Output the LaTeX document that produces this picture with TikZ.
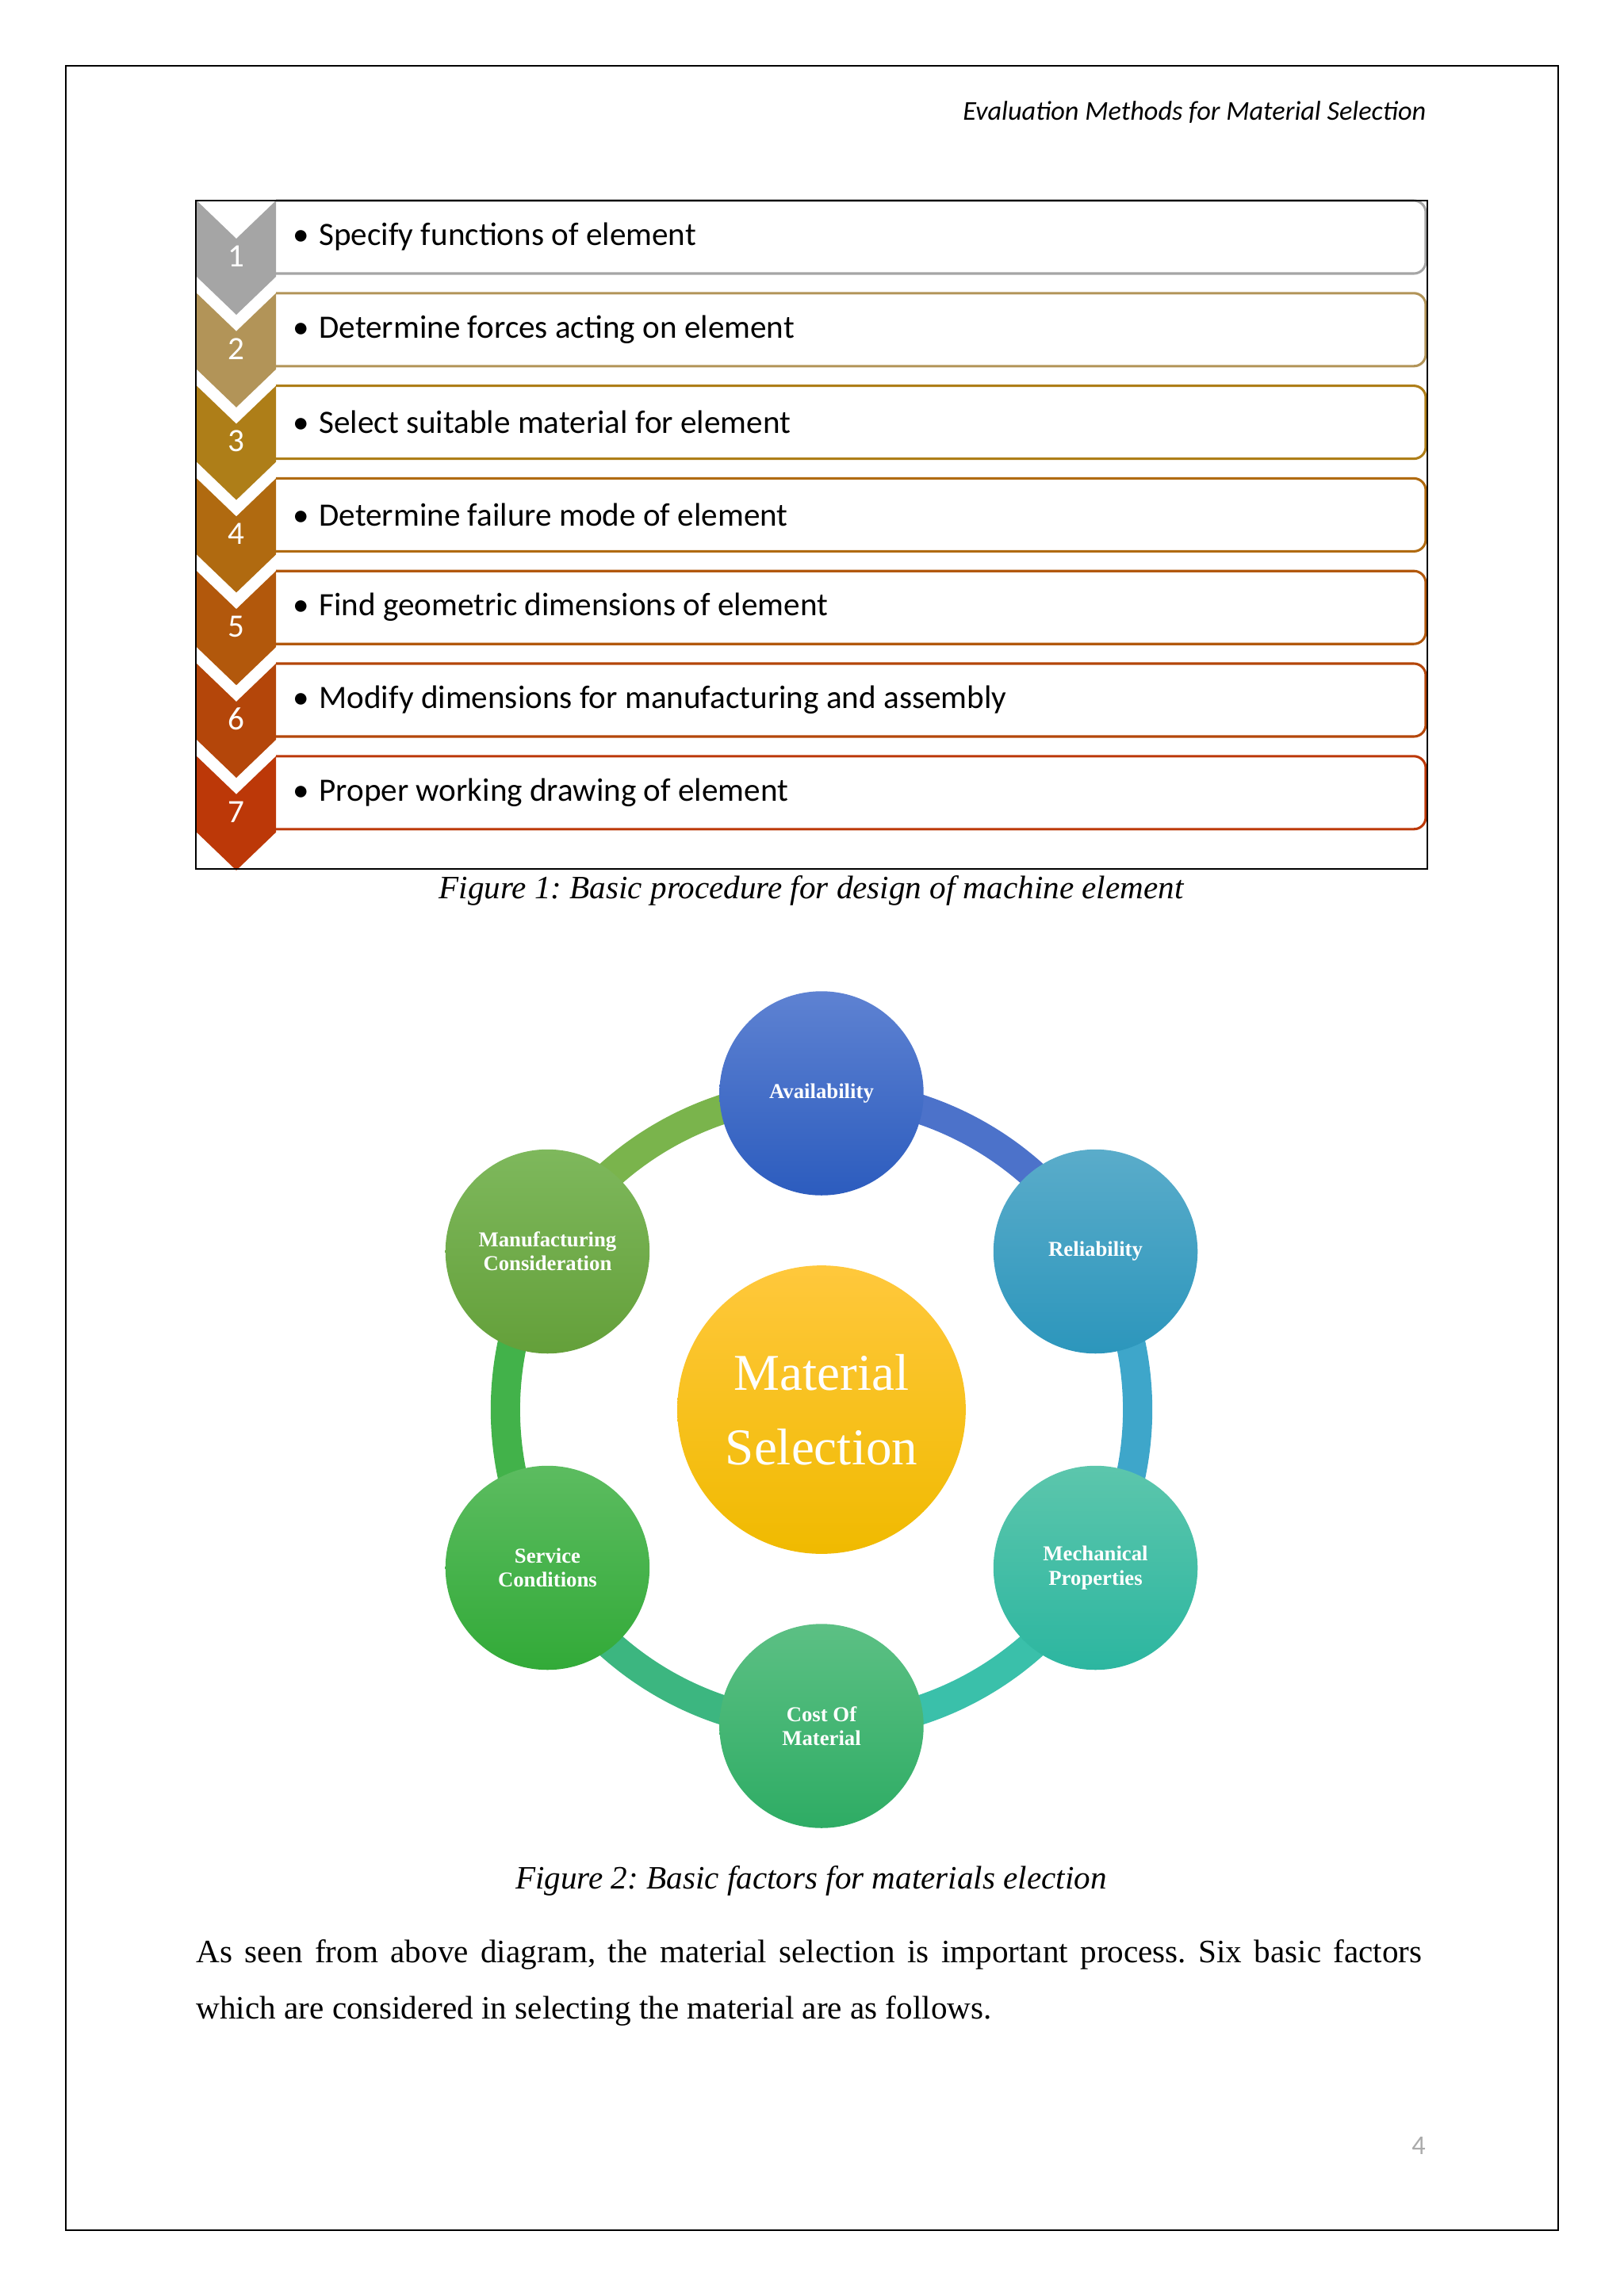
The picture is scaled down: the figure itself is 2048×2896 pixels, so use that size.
\documentclass[tikz,border=0pt]{standalone}
\usepackage{fontspec}
\setmainfont{Liberation Serif}
\newfontfamily\calibri{Carlito}
\usepackage{tikz}
\usetikzlibrary{arrows.meta,positioning,calc,backgrounds}
\usepackage{xcolor}
\frenchspacing
\definecolor{stepgray}{RGB}{165,165,165}
\definecolor{steptan}{RGB}{178,148,88}
\definecolor{stepgold}{RGB}{174,126,24}
\definecolor{stepochre}{RGB}{176,106,16}
\definecolor{steprust}{RGB}{178,88,12}
\definecolor{stepbrick}{RGB}{180,70,10}
\definecolor{stepred}{RGB}{188,56,8}
\definecolor{availtop}{RGB}{94,130,210}
\definecolor{availbot}{RGB}{44,92,190}
\definecolor{reltop}{RGB}{90,172,202}
\definecolor{relbot}{RGB}{44,150,188}
\definecolor{mechtop}{RGB}{92,198,172}
\definecolor{mechbot}{RGB}{44,182,160}
\definecolor{costtop}{RGB}{92,192,132}
\definecolor{costbot}{RGB}{46,172,100}
\definecolor{servtop}{RGB}{92,188,96}
\definecolor{servbot}{RGB}{50,170,56}
\definecolor{manutop}{RGB}{126,184,92}
\definecolor{manubot}{RGB}{100,160,58}
\definecolor{hubtop}{RGB}{255,200,60}
\definecolor{hubbot}{RGB}{240,186,0}
\definecolor{ringab}{RGB}{76,114,202}
\definecolor{ringbc}{RGB}{62,166,202}
\definecolor{ringcd}{RGB}{58,192,170}
\definecolor{ringde}{RGB}{60,182,128}
\definecolor{ringef}{RGB}{66,178,74}
\definecolor{ringfa}{RGB}{122,180,76}
\definecolor{pagenum}{RGB}{170,170,170}
% one row of the procedure: colour, name, row, number, text
\newcommand{\procstep}[5]{
  \begin{scope}[shift={(0,-116.8*#3)}]
    \draw[#1,line width=0.9pt] (348,-253) -- (1783,-253) arc[start angle=90,end angle=0,radius=15]
      -- (1798,-330) arc[start angle=0,end angle=-90,radius=15] -- (348,-345);
    \fill[#1] (248,-253) -- (298,-301) -- (348,-253) -- (348,-349) -- (298,-397) -- (248,-349) -- cycle;
    \node[stepnum] (#2num) at (298,-323) {#4};
    \node[steptext] (#2) at (369,-299) {\textbullet\hspace{0.3em}#5};
  \end{scope}
}
\newcommand{\factorball}[4]{
  \node[factor,top color=#1top,bottom color=#1bot] (#2) at ($(matsel)+(#3:399)$) {#4};
}

\begin{document}
\begin{tikzpicture}[x=0.1025390625mm,y=0.1025390625mm,
  stepnum/.style={text=white,inner sep=0,font=\calibri\fontsize{12}{14}\selectfont},
  steptext/.style={anchor=west,inner sep=0,font=\calibri\fontsize{12}{14}\selectfont},
  caption/.style={font=\itshape\fontsize{12}{14}\selectfont},
  factor/.style={circle,minimum size=26.4mm,inner sep=0,text=white,align=center,
    font=\bfseries\fontsize{7.8}{8.8}\selectfont},
  ring/.style={line width=3.8mm,bend left=30,looseness=0.91}]
  \useasboundingbox (0,0) rectangle (2048,-2896);
  \draw[line width=0.6pt] (83,-83) rectangle (1965,-2813);
  \node[anchor=base east,inner sep=0,font=\calibri\itshape\fontsize{10}{12}\selectfont] (runhead) at (1799,-151) {Evaluation Methods for Material Selection};

  \procstep{stepgray}{specify}{0}{1}{Specify functions of element}
  \procstep{steptan}{forces}{1}{2}{Determine forces acting on element}
  \procstep{stepgold}{select}{2}{3}{Select suitable material for element}
  \procstep{stepochre}{failure}{3}{4}{Determine failure mode of element}
  \procstep{steprust}{geometry}{4}{5}{Find geometric dimensions of element}
  \procstep{stepbrick}{modify}{5}{6}{Modify dimensions for manufacturing and assembly}
  \procstep{stepred}{drawing}{6}{7}{Proper working drawing of element}
  \draw[line width=0.6pt] (247,-253) rectangle (1800,-1096);
  \node[caption] (figone) at (1023,-1123) {Figure 1: Basic procedure for design of machine element};

  \node[circle,minimum size=37.3mm,inner sep=0,top color=hubtop,bottom color=hubbot,text=white,align=center,
    font=\fontsize{19}{27.6}\selectfont] (matsel) at (1036,-1778) {Material\\Selection};
  \factorball{avail}{availability}{90}{Availability}
  \factorball{rel}{reliability}{30}{Reliability}
  \factorball{mech}{mechanical}{-30}{Mechanical\\Properties}
  \factorball{cost}{costof}{-90}{Cost Of\\Material}
  \factorball{serv}{service}{-150}{Service\\Conditions}
  \factorball{manu}{manufacturing}{150}{Manufacturing\\Consideration}
  \begin{scope}[on background layer]
    \draw[ring,ringab] (availability.center) to (reliability.center);
    \draw[ring,ringbc] (reliability.center) to (mechanical.center);
    \draw[ring,ringcd] (mechanical.center) to (costof.center);
    \draw[ring,ringde] (costof.center) to (service.center);
    \draw[ring,ringef] (service.center) to (manufacturing.center);
    \draw[ring,ringfa] (manufacturing.center) to (availability.center);
  \end{scope}
  \node[caption] (figtwo) at (1023,-2372) {Figure 2: Basic factors for materials election};

  \node[anchor=north west,inner sep=0,text width=451pt,align=justify,font=\fontsize{12}{20.8}\selectfont] (para) at (247,-2446)
    {As seen from above diagram, the material selection is important process. Six basic factors\linebreak which are considered in selecting the material are as follows.};
  \node[anchor=base,inner sep=0,text=pagenum,font=\calibri\fontsize{10}{12}\selectfont] (pageno) at (1789,-2717) {4};
\end{tikzpicture}
\end{document}
